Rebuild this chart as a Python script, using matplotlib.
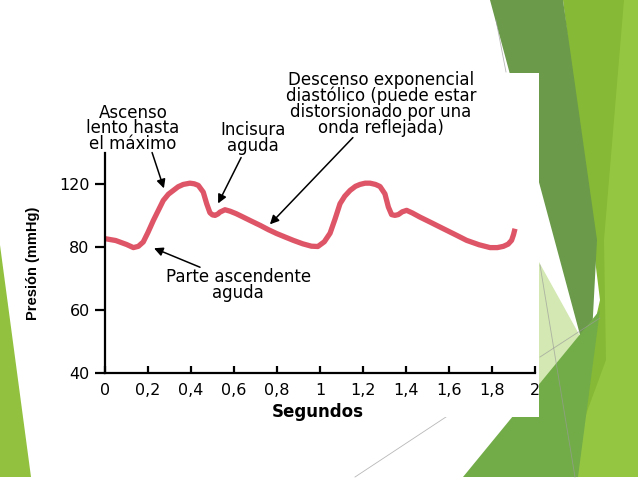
import matplotlib.pyplot as plt
from matplotlib.patches import Polygon, Rectangle
from matplotlib.lines import Line2D

# Arterial pressure curve (seconds, mmHg)
tiempo = [0.0, 0.05, 0.10, 0.132, 0.155, 0.178, 0.20, 0.225, 0.25, 0.271, 0.295,
          0.318, 0.34, 0.364, 0.395, 0.415, 0.434, 0.457, 0.473, 0.488, 0.50,
          0.512, 0.525, 0.535, 0.558, 0.581, 0.61, 0.643, 0.68, 0.721, 0.76,
          0.799, 0.84, 0.876, 0.92, 0.96, 0.99, 1.02, 1.047, 1.07, 1.093, 1.115,
          1.14, 1.165, 1.186, 1.21, 1.233, 1.258, 1.279, 1.302, 1.318, 1.333,
          1.348, 1.364, 1.383, 1.403, 1.43, 1.465, 1.52, 1.574, 1.63, 1.682,
          1.74, 1.791, 1.825, 1.853, 1.875, 1.891, 1.9, 1.907]
presion = [85.5, 84.3, 81.8, 79.8, 80.6, 83.4, 89.5, 97.1, 104.0, 109.8, 113.8,
           116.2, 118.5, 120.0, 120.8, 120.4, 119.4, 115.1, 107.7, 102.0, 100.6,
           100.3, 101.2, 102.4, 103.9, 103.0, 101.4, 99.2, 96.7, 94.0, 91.2,
           88.7, 86.4, 84.4, 82.2, 80.7, 80.5, 83.5, 89.0, 98.0, 107.7, 112.5,
           116.2, 118.8, 120.0, 120.8, 120.8, 120.0, 118.7, 114.0, 105.6, 100.8,
           100.3, 100.8, 102.6, 103.5, 101.8, 99.2, 95.5, 91.8, 88.0, 84.4,
           81.6, 79.8, 79.8, 80.6, 82.0, 84.4, 88.0, 91.8]

x_ticks = [0, 0.2, 0.4, 0.6, 0.8, 1.0, 1.2, 1.4, 1.6, 1.8, 2.0]
x_ticklabels = ['0', '0,2', '0,4', '0,6', '0,8', '1', '1,2', '1,4', '1,6', '1,8', '2']
# the source figure spaces its ticks evenly but labels them 40, 60, 80, 120
y_ticks = [0, 40, 80, 120]
y_ticklabels = ['40', '60', '80', '120']

W, H = 638, 479


def px(points):
    return [(x / W, 1 - y / H) for x, y in points]


fig = plt.figure(figsize=(6.38, 4.79), dpi=100)
fig.patch.set_facecolor('white')

# slide decoration (green facets)
shapes = [
    ([(563, 0), (638, 0), (638, 477), (560, 477), (600, 300)], '#86b935'),
    ([(624, 0), (638, 0), (638, 477), (563, 477), (606, 360), (604, 240)], '#95c642'),
    ([(490, 0), (563, 0), (597, 240), (590, 372)], '#6a9a4a'),
    ([(539, 262), (585, 345), (520, 430), (539, 400)], '#d3e8b2'),
    ([(463, 477), (600, 310), (578, 477)], '#72ac48'),
    ([(0, 245), (31, 477), (0, 477)], '#92c13f'),
]
for pts, col in shapes:
    fig.add_artist(Polygon(px(pts), closed=True, facecolor=col, edgecolor='none',
                           transform=fig.transFigure, zorder=-3))
for (x0, y0), (x1, y1) in [((496, 20), (506, 72)), ((540, 265), (575, 477)),
                           ((355, 477), (452, 413)), ((540, 357), (600, 318))]:
    fig.add_artist(Line2D([x0 / W, x1 / W], [1 - y0 / H, 1 - y1 / H], color='#9a9a9a',
                          lw=0.6, alpha=0.7, transform=fig.transFigure, zorder=-2))

# white picture area
fig.add_artist(Rectangle((40 / W, 1 - 417 / H), (539 - 40) / W, (417 - 73) / H,
                         facecolor='white', edgecolor='none',
                         transform=fig.transFigure, zorder=-1))

ax = fig.add_axes([105 / W, 1 - 373 / H, 430 / W, 220 / H])
ax.set_facecolor('none')
ax.plot(tiempo, presion, color='#de5567', lw=3.8, solid_capstyle='butt',
        solid_joinstyle='round')

ax.set_xlim(0, 2)
ax.set_ylim(0, 140)
for s in ['top', 'right']:
    ax.spines[s].set_visible(False)
for s in ['left', 'bottom']:
    ax.spines[s].set_linewidth(1.6)

ax.set_xticks(x_ticks)
ax.set_xticklabels(x_ticklabels)
ax.set_yticks(y_ticks)
ax.set_yticklabels(y_ticklabels)
ax.tick_params(axis='x', direction='in', length=5, width=1.6, pad=7, labelsize=11.5)
ax.tick_params(axis='y', direction='out', length=7, width=1.6, pad=4, labelsize=11.5)

ax.set_xlabel('Segundos', fontsize=12, fontweight='bold')
ax.xaxis.set_label_coords(0.495, -0.135)
ax.set_ylabel('Presión (mmHg)', fontsize=10.5, fontweight='bold',
              family='Liberation Sans')
ax.yaxis.set_label_coords(-0.15, 0.5)

txt = dict(fontsize=12, ha='center', va='center', linespacing=0.85)
ax.text(0.13, 155.6, 'Ascenso\nlento hasta\nel máximo', **txt)
ax.text(0.688, 149.8, 'Incisura\naguda', **txt)
ax.text(1.284, 171.4, 'Descenso exponencial\ndiastólico (puede estar\n'
        'distorsionado por una\nonda reflejada)', **txt)
ax.text(0.619, 55.9, 'Parte ascendente\naguda', **txt)

arrow = dict(arrowstyle='-|>', color='black', lw=1.1, mutation_scale=13,
             shrinkA=0, shrinkB=0)
for head, tail in [((0.274, 117.5), (0.219, 140.3)),
                   ((0.526, 107.9), (0.633, 137.1)),
                   ((0.767, 94.6), (1.153, 149.8)),
                   ((0.228, 79.4), (0.442, 67.3))]:
    ax.annotate('', xy=head, xytext=tail, arrowprops=arrow, annotation_clip=False)

fig.savefig('out.png', dpi=100)
